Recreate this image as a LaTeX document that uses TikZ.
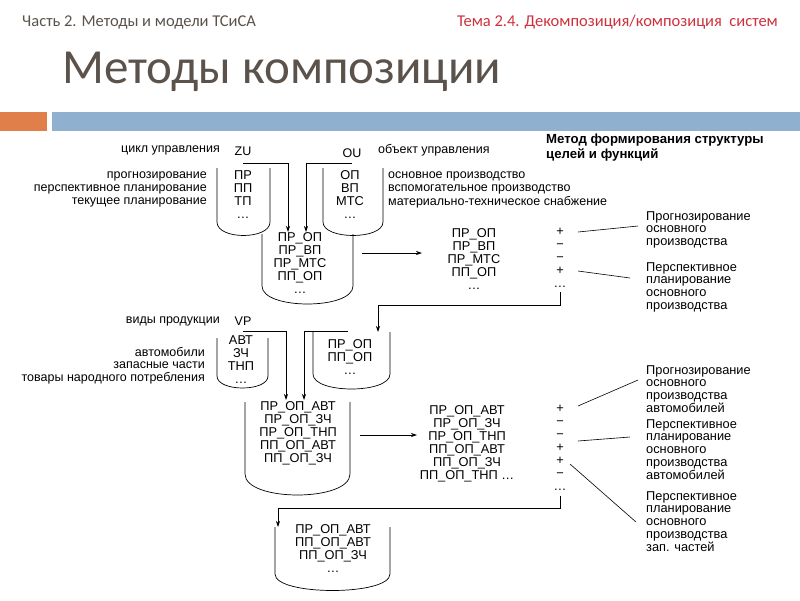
\documentclass[tikz,border=0pt]{standalone}
\usepackage{fontspec}
\setmainfont{Liberation Sans}
\newfontfamily\hdr{Carlito}
\usetikzlibrary{arrows.meta}
\definecolor{hgray}{HTML}{5A524B}
\definecolor{hred}{HTML}{D0303C}
\definecolor{borange}{HTML}{E07F4A}
\definecolor{bblue}{HTML}{8FB1CF}
\begin{document}
\begin{tikzpicture}[x=1pt,y=-1pt,
  t/.style={inner sep=0pt,font=\fontsize{12.5}{12.5}\selectfont},
  lbl/.style={t,anchor=east},
  rl/.style={t,anchor=west},
  note/.style={t,anchor=north west,align=left,font=\fontsize{12.8}{12.8}\selectfont},
  col/.style={t,align=center,font=\fontsize{12.8}{13}\selectfont,anchor=north},
  cont/.style={draw,line width=0.7pt},
  arr/.style={draw,line width=0.7pt,-{Stealth[length=6pt,width=4pt]}},
  ln/.style={draw,line width=0.6pt}]
\useasboundingbox (0,0) rectangle (800,600);
\fill[white] (0,0) rectangle (800,600);
% header
\node[anchor=west,inner sep=0,text=hgray,font=\hdr\fontsize{16.5}{16.5}\selectfont] (h1) at (22,22) {Часть 2. Методы и модели ТСиСА};
\node[anchor=east,inner sep=0,text=hred,font=\hdr\fontsize{16.5}{16.5}\selectfont] (h2) at (778,22) {Тема 2.4. Декомпозиция/композиция\ \ систем};
\node[anchor=west,inner sep=0,text=hgray,font=\hdr\fontsize{49}{49}\selectfont] (title) at (62,72) {Методы композиции};
\fill[borange] (0,112) rectangle (47,131);
\fill[bblue] (52,112) rectangle (800,131);
\node[note,font=\bfseries\fontsize{13.2}{15}\selectfont] (mh) at (546,134) {Метод формирования структуры\\целей и функций};
% section 1 labels
\node[lbl] (cu) at (220,150) {цикл управления};
\node[lbl] (l1) at (207,176) {прогнозирование};
\node[lbl] (l2) at (207,189) {перспективное планирование};
\node[lbl] (l3) at (207,202) {текущее планирование};
\node[t] (zu) at (243,151) {ZU};
\node[t] (ou) at (352,153) {OU};
\node[rl] (ob) at (378,150) {объект управления};
\node[rl] (r1) at (388,176) {основное производство};
\node[rl] (r2) at (388,189) {вспомогательное производство};
\node[rl] (r3) at (388,202) {материально-техническое снабжение};
\node[col] (zc) at (243,170) {ПР\\ПП\\ТП\\…};
\node[col] (oc) at (350,170) {ОП\\ВП\\МТС\\…};
\draw[cont] (217,168) -- (217,222) .. controls (217,240) and (270,240) .. (270,222) -- (270,168);
\draw[cont] (323,168) -- (323,222) .. controls (323,240) and (383,240) .. (383,222) -- (383,168);
\coordinate (zs) at (243,163); \coordinate (za) at (288,232);
\coordinate (os) at (352,163); \coordinate (oa) at (306,232);
\draw[arr] (zs) -| (za);
\draw[arr] (os) -| (oa);
\node[col] (c1) at (300,232) {ПР\_ОП\\ПР\_ВП\\ПР\_МТС\\ПП\_ОП\\…};
\draw[cont] (262,234) -- (262,286) .. controls (262,310) and (353,310) .. (353,286) -- (353,234);
\coordinate (a1s) at (362,253); \coordinate (a1e) at (422,253);
\draw[arr] (a1s) -- (a1e);
\node[col] (l1c) at (474,228) {ПР\_ОП\\ПР\_ВП\\ПР\_МТС\\ПП\_ОП\\…};
\node[col] (s1) at (560,228) {+\\−\\−\\+\\…};
\coordinate (b1s) at (560,292); \coordinate (b1e) at (378,332);
\draw[arr] (b1s) |- (378,305) -- (b1e);
\node[note] (n1) at (646,211) {Прогнозирование\\основного\\производства};
\node[note] (n2) at (646,262) {Перспективное\\планирование\\основного\\производства};
\coordinate (p1) at (578,232); \coordinate (p2) at (578,271);
\draw[ln] (p1) -- (638,226);
\draw[ln] (p2) -- (630,278);
% section 2
\node[lbl] (vpl) at (220,321) {виды продукции};
\node[t] (vp) at (243,321) {VP};
\node[lbl] (m1) at (205,352) {автомобили};
\node[lbl] (m2) at (205,365) {запасные части};
\node[lbl] (m3) at (205,378) {товары народного потребления};
\node[col] (vc) at (241,335) {АВТ\\ЗЧ\\ТНП\\…};
\draw[cont] (217,338) -- (217,376) .. controls (217,392) and (268,392) .. (268,376) -- (268,338);
\node[col] (pc) at (350,339) {ПР\_ОП\\ПП\_ОП\\…};
\draw[cont] (313,332) -- (313,374) .. controls (313,394) and (390,394) .. (390,374) -- (390,332);
\coordinate (vs) at (243,331); \coordinate (va) at (286,400);
\coordinate (ps) at (348,331); \coordinate (pa) at (304,400);
\draw[arr] (vs) -| (va);
\draw[arr] (ps) -| (pa);
\node[col] (c3) at (298,401) {ПР\_ОП\_АВТ\\ПР\_ОП\_ЗЧ\\ПР\_ОП\_ТНП\\ПП\_ОП\_АВТ\\ПП\_ОП\_ЗЧ};
\draw[cont] (245,402) -- (245,474) .. controls (245,502) and (350,502) .. (350,474) -- (350,402);
\coordinate (a2s) at (360,435); \coordinate (a2e) at (417,435);
\draw[arr] (a2s) -- (a2e);
\node[col] (l2c) at (467,405) {ПР\_ОП\_АВТ\\ПР\_ОП\_ЗЧ\\ПР\_ОП\_ТНП\\ПП\_ОП\_АВТ\\ПП\_ОП\_ЗЧ\\ПП\_ОП\_ТНП …};
\node[col] (s2) at (560,405) {+\\−\\−\\+\\+\\−\\…};
\coordinate (b2s) at (560,496); \coordinate (b2e) at (278,527);
\draw[arr] (b2s) |- (278,508) -- (b2e);
\node[note] (n3) at (646,365) {Прогнозирование\\основного\\производства\\автомобилей};
\node[note] (n4) at (646,419) {Перспективное\\планирование\\основного\\производства\\автомобилей};
\node[note] (n5) at (646,491) {Перспективное\\планирование\\основного\\производства\\зап. частей};
\coordinate (p3) at (578,406); \coordinate (p4) at (578,441); \coordinate (p5) at (570,464);
\draw[ln] (p3) -- (638,380);
\draw[ln] (p4) -- (630,437);
\draw[ln] (p5) -- (636,522);
\node[col] (c4) at (333,524) {ПР\_ОП\_АВТ\\ПП\_ОП\_АВТ\\ПП\_ОП\_ЗЧ\\…};
\draw[cont] (275,527) -- (275,574) .. controls (275,596) and (390,596) .. (390,574) -- (390,527);
\end{tikzpicture}
\end{document}
